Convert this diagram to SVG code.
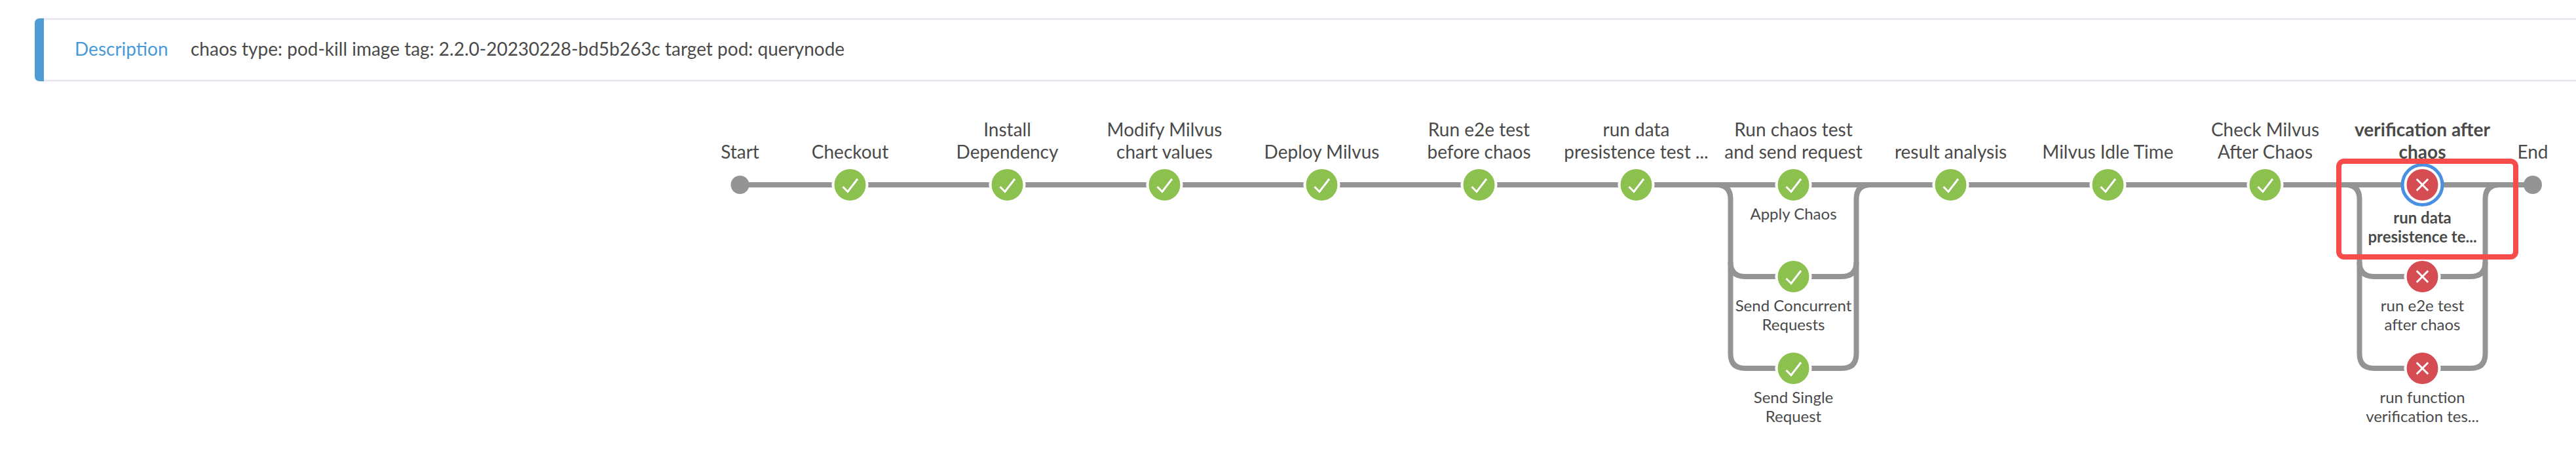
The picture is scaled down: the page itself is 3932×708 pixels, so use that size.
<svg xmlns="http://www.w3.org/2000/svg" width="3932" height="708" viewBox="0 0 3932 708">
<style>
text{font-family:Lato,"Open Sans","Liberation Sans",sans-serif;font-size:28px;fill:#4a4a4a;text-anchor:middle}
.sub{font-size:24px}
.b{font-weight:700}
.conn{fill:none;stroke:#949494;stroke-width:8}
.halo{fill:#fff}
.ok{fill:#8cc04f}
.bad{fill:#d54c53}
.term{fill:#949494}
.mark{fill:none;stroke:#fff;stroke-width:3}
</style>
<defs>
<g id="okn"><circle r="28" class="halo"/><circle r="24" class="ok"/><path d="M-11 3L-3.500 10.500L11.500-9" class="mark"/></g>
<g id="badn"><circle r="28" class="halo"/><circle r="24" class="bad"/><path d="M-8.700-8.700L8.700 8.700M8.700-8.700L-8.700 8.700" class="mark"/></g>
</defs>
<g id="description">
<path d="M60 29H3932M60 123H3932" stroke="#e4e8ee" stroke-width="2.500" fill="none"/>
<path d="M67 28V124H61Q53 124 53 116V36Q53 28 61 28Z" fill="#4e9bd6"/>
<text x="114" y="85" style="text-anchor:start;fill:#4a9ad8">Description</text>
<text x="291" y="85" style="text-anchor:start">chaos type: pod-kill image tag: 2.2.0-20230228-bd5b263c target pod: querynode</text>
</g>
<g id="connectors">
<path class="conn" d="M1129.500 282H3866"/>
<path class="conn" d="M2620 282Q2641.500 282 2641.500 304V540Q2641.500 562 2664 562H2811Q2833.500 562 2833.500 540V304Q2833.500 282 2855 282"/>
<path class="conn" d="M2641.500 400Q2641.500 422 2664 422H2811Q2833.500 422 2833.500 400"/>
<path class="conn" d="M3580 282Q3601.500 282 3601.500 304V540Q3601.500 562 3624 562H3771Q3793.500 562 3793.500 540V304Q3793.500 282 3815 282"/>
<path class="conn" d="M3601.500 400Q3601.500 422 3624 422H3771Q3793.500 422 3793.500 400"/>
</g>
<g id="n-start"><circle cx="1129.500" cy="282" r="14" class="term"/><text x="1129.500" y="242">Start</text></g>
<g id="n-checkout"><use href="#okn" x="1297.500" y="282"/><text x="1297.500" y="242">Checkout</text></g>
<g id="n-install"><use href="#okn" x="1537.500" y="282"/><text x="1537.500" y="208">Install</text><text x="1537.500" y="242">Dependency</text></g>
<g id="n-modify"><use href="#okn" x="1777.500" y="282"/><text x="1777.500" y="208">Modify Milvus</text><text x="1777.500" y="242">chart values</text></g>
<g id="n-deploy"><use href="#okn" x="2017.500" y="282"/><text x="2017.500" y="242">Deploy Milvus</text></g>
<g id="n-e2e"><use href="#okn" x="2257.500" y="282"/><text x="2257.500" y="208">Run e2e test</text><text x="2257.500" y="242">before chaos</text></g>
<g id="n-persist"><use href="#okn" x="2497.500" y="282"/><text x="2497.500" y="208">run data</text><text x="2497.500" y="242">presistence test ...</text></g>
<g id="n-chaos"><use href="#okn" x="2737.500" y="282"/><text x="2737.500" y="208">Run chaos test</text><text x="2737.500" y="242">and send request</text><text class="sub" x="2737.500" y="335">Apply Chaos</text></g>
<g id="n-concurrent"><use href="#okn" x="2737.500" y="422"/><text class="sub" x="2737.500" y="475">Send Concurrent</text><text class="sub" x="2737.500" y="504">Requests</text></g>
<g id="n-single"><use href="#okn" x="2737.500" y="562"/><text class="sub" x="2737.500" y="615">Send Single</text><text class="sub" x="2737.500" y="644">Request</text></g>
<g id="n-result"><use href="#okn" x="2977.500" y="282"/><text x="2977.500" y="242">result analysis</text></g>
<g id="n-idle"><use href="#okn" x="3217.500" y="282"/><text x="3217.500" y="242">Milvus Idle Time</text></g>
<g id="n-check"><use href="#okn" x="3457.500" y="282"/><text x="3457.500" y="208">Check Milvus</text><text x="3457.500" y="242">After Chaos</text></g>
<g id="n-verify"><circle cx="3697.500" cy="282" r="30.500" fill="#fff" stroke="#4a90e2" stroke-width="5"/><circle cx="3697.500" cy="282" r="24" class="bad"/><path transform="translate(3697.500 282)" d="M-8.700-8.700L8.700 8.700M8.700-8.700L-8.700 8.700" class="mark"/><text class="b" x="3697.500" y="208">verification after</text><text class="b" x="3697.500" y="242">chaos</text><text class="sub b" x="3697.500" y="341">run data</text><text class="sub b" x="3697.500" y="370">presistence te...</text></g>
<g id="n-e2e-after"><use href="#badn" x="3697.500" y="422"/><text class="sub" x="3697.500" y="475">run e2e test</text><text class="sub" x="3697.500" y="504">after chaos</text></g>
<g id="n-function"><use href="#badn" x="3697.500" y="562"/><text class="sub" x="3697.500" y="615">run function</text><text class="sub" x="3697.500" y="644">verification tes...</text></g>
<g id="n-end"><circle cx="3866" cy="282" r="14" class="term"/><text x="3866" y="242">End</text></g>
<rect id="highlight" x="3570" y="246" width="270" height="146" rx="8" fill="none" stroke="#f84b4b" stroke-width="8"/>
</svg>
